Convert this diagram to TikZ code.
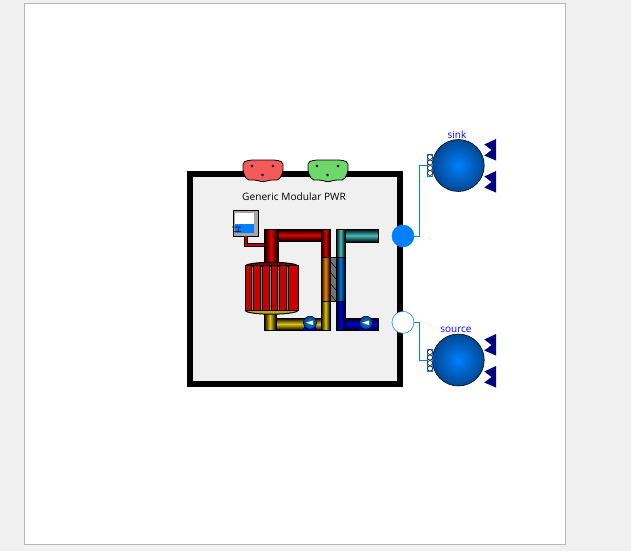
\documentclass[tikz,border=0pt]{standalone}
\usepackage{fontspec}
\setmainfont{Open Sans}
\definecolor{wireblue}{RGB}{0,127,255}
\definecolor{ballrim}{RGB}{0,72,145}
\definecolor{hotred}{RGB}{225,0,0}
\definecolor{coldteal}{RGB}{70,190,190}
\definecolor{midorange}{RGB}{250,130,0}
\definecolor{feedyellow}{RGB}{225,195,20}
\definecolor{steamblue}{RGB}{0,120,230}
\definecolor{deepblue}{RGB}{0,0,225}
\definecolor{tipblue}{RGB}{0,0,127}
\definecolor{busred}{RGB}{245,90,90}
\definecolor{busgreen}{RGB}{110,215,105}

\begin{document}
\begin{tikzpicture}[
  x=0.75pt, y=-0.75pt,
  pipesize/.style 2 args={draw=black, line width=0.75pt, inner sep=0pt, outer sep=0pt, minimum width=#1*0.75pt, minimum height=#2*0.75pt},
  vpipe/.style={left color=black, right color=black, middle color=#1},
  hpipe/.style={top color=black, bottom color=black, middle color=#1},
  ball/.style={circle, draw=black, inner sep=0pt, minimum size=52*0.75pt, inner color=wireblue, outer color=ballrim},
  port/.style={circle, draw=wireblue, inner sep=0pt, minimum size=22*0.75pt},
  busbox/.style={rectangle, draw=wireblue, fill=white, inner sep=0pt, minimum width=5.5*0.75pt, minimum height=22*0.75pt},
  busdot/.style={circle, draw=black, fill=white, inner sep=0pt, minimum size=5*0.75pt},
  pumphead/.style={circle, draw=black, inner sep=0pt, minimum size=13*0.75pt, inner color=steamblue, outer color=ballrim},
  wire/.style={draw=wireblue, thin},
  label/.style={inner sep=0pt, text=blue, font=\fontsize{7.5}{9}\selectfont},
  flange/.style={draw=black, line width=0.6pt, rounded corners=1.5pt},
  pin/.style={circle, fill=black, inner sep=0pt, minimum size=2.8*0.75pt},
  tip/.style={fill=tipblue, draw=none},
]

\fill[black!6] (0,0) rectangle (631,551);
\useasboundingbox (0,0) rectangle (631,551);
\draw[draw=black!28, fill=white, line width=0.75pt] (24,3) rectangle (565,544);

% plant box
\node[draw=black, fill=black!6, line width=4.9pt, inner sep=0pt, minimum width=210*0.75pt, minimum height=210*0.75pt] (plant) at (295,279) {};
\node[inner sep=0pt, font=\fontsize{7.6}{9}\selectfont] (plantname) at (294,196.5) {Generic Modular PWR};

% bus flanges
\draw[flange, fill=busred] (243,162) -- (250,160) -- (276,160) -- (283,162) -- (283,172) -- (279,180) -- (270,180) -- (263,182) -- (256,180) -- (247,180) -- (243,172) -- cycle;
\draw[flange, fill=busgreen] (308,162) -- (315,160) -- (341,160) -- (348,162) -- (348,172) -- (344,180) -- (335,180) -- (328,182) -- (321,180) -- (312,180) -- (308,172) -- cycle;
\node[pin] (redpin1) at (252,166) {};
\node[pin] (redpin2) at (273,166) {};
\node[pin] (redpin3) at (262.5,175) {};
\node[pin] (greenpin1) at (317,166) {};
\node[pin] (greenpin2) at (338,166) {};
\node[pin] (greenpin3) at (327.5,175) {};

% pressurizer
\node[draw=black, fill=black!35, inner sep=0pt, minimum width=25*0.75pt, minimum height=26*0.75pt] (tank) at (245.5,223) {};
\fill[white] (235,212.7) rectangle (254.3,224);
\fill[wireblue] (235,224) rectangle (254.3,233.3);
\draw[black, thin] (232,227) -- (241,227) (233,231.7) -- (241,231.7) (239,227) -- (238,231.7);

% primary loop
\node[pipesize={14}{34}, vpipe=hotred] (riser) at (271,246) {};
\node[pipesize={43}{12}, hpipe=hotred] (hotleg) at (299.5,235) {};
\node[pipesize={9}{28}, vpipe=hotred] (sgin) at (325.5,243) {};
\node[pipesize={9}{44}, vpipe=midorange] (sgmid) at (325.5,279) {};
\node[pipesize={9}{29}, vpipe=feedyellow] (sgout) at (325.5,315.5) {};
\node[pipesize={45}{12}, hpipe=feedyellow] (coldleg) at (298.5,324) {};
\node[pipesize={12}{17}, vpipe=feedyellow] (downcomer) at (270,321.5) {};

% secondary loop
\node[pipesize={9}{28}, vpipe=coldteal] (steamtop) at (340.5,243) {};
\node[pipesize={9}{44}, vpipe=steamblue] (steammid) at (340.5,279) {};
\node[pipesize={9}{29}, vpipe=deepblue] (steamlow) at (340.5,315.5) {};
\node[pipesize={33}{13}, hpipe=coldteal] (steamout) at (361.5,235.5) {};
\node[pipesize={33}{12}, hpipe=deepblue] (feedin) at (361.5,324) {};

% tube wall
\node[pipesize={6}{44}, fill=black!55] (tubewall) at (333,279) {};
\draw[black, thin] (330,261) -- (336,268) (330,272) -- (336,279) (330,283) -- (336,290) (330,294) -- (336,301);

% surge line
\coordinate (surgeend) at (264,244.5);
\draw[draw=black, line width=3pt] (tank.south) |- (surgeend);
\draw[draw=hotred!85!black, line width=1.5pt] (tank.south) |- (surgeend);

% core
\draw[draw=black, line width=0.75pt, fill=hotred!55!black] (271.5,266) ellipse (26 and 3.7);
\draw[draw=black, line width=0.75pt, fill=feedyellow!85!black] (271.5,310.5) ellipse (26 and 3.7);
\node[pipesize={53}{45}, fill=hotred!90!black] (core) at (271.5,288) {};
\draw[draw=black, fill=black!50, line width=0.3pt] (251.3,266) rectangle (253.3,310.5);
\draw[draw=black, fill=black!50, line width=0.3pt] (260.3,266) rectangle (262.3,310.5);
\draw[draw=black, fill=black!50, line width=0.3pt] (269.3,266) rectangle (271.3,310.5);
\draw[draw=black, fill=black!50, line width=0.3pt] (277.3,266) rectangle (279.3,310.5);
\draw[draw=black, fill=black!50, line width=0.3pt] (286.3,266) rectangle (288.3,310.5);

% pumps
\fill[deepblue!70!black] (302,330.7) -- (305,326) -- (315,326) -- (318,330.7) -- cycle;
\fill[deepblue!70!black] (358.5,330.7) -- (361.5,326) -- (371.5,326) -- (374.5,330.7) -- cycle;
\node[pumphead] (primarypump) at (310,322.7) {};
\node[pumphead] (feedpump) at (366,322.7) {};
\fill[white] (306,322.7) -- (313,320.5) -- (313,325) -- cycle;
\fill[white] (362,322.7) -- (369,320.5) -- (369,325) -- cycle;

% boundaries
\node[ball] (sink) at (458.3,165.5) {};
\node[ball] (source) at (458.3,360) {};
\node[label] (sinklabel) at (457,135) {sink};
\node[label] (sourcelabel) at (456,330) {source};

\node[busbox] (sinkbus) at (430,165.3) {};
\node[busdot] (sinkdot1) at (430,157) {};
\node[busdot] (sinkdot2) at (430,162.5) {};
\node[busdot] (sinkdot3) at (430,168) {};
\node[busdot] (sinkdot4) at (430,173) {};
\node[busbox] (sourcebus) at (430,360.3) {};
\node[busdot] (sourcedot1) at (430,352) {};
\node[busdot] (sourcedot2) at (430,357.5) {};
\node[busdot] (sourcedot3) at (430,363) {};
\node[busdot] (sourcedot4) at (430,368.5) {};

\fill[tip] (496,139) -- (484.3,144.5) -- (491.5,150) -- (484.3,155.5) -- (496,160.5) -- cycle;
\fill[tip] (496,171) -- (484.3,176.5) -- (491.5,182) -- (484.3,187.5) -- (496,192.5) -- cycle;
\fill[tip] (496,334) -- (484.3,339.5) -- (491.5,345) -- (484.3,350.5) -- (496,355.5) -- cycle;
\fill[tip] (496,366) -- (484.3,371.5) -- (491.5,377) -- (484.3,382.5) -- (496,387.5) -- cycle;

% ports
\node[port, fill=wireblue] (outport) at (403,236) {};
\node[port, fill=white] (inport) at (403,322.3) {};

\coordinate (sinkbend) at (419.3,165.3);
\coordinate (sourcebend) at (419.3,360.3);
\draw[wire] (outport) -- (outport -| sinkbend) -- (sinkbend) -- (sinkbus);
\draw[wire] (inport) -- (inport -| sourcebend) -- (sourcebend) -- (sourcebus);

\end{tikzpicture}
\end{document}
